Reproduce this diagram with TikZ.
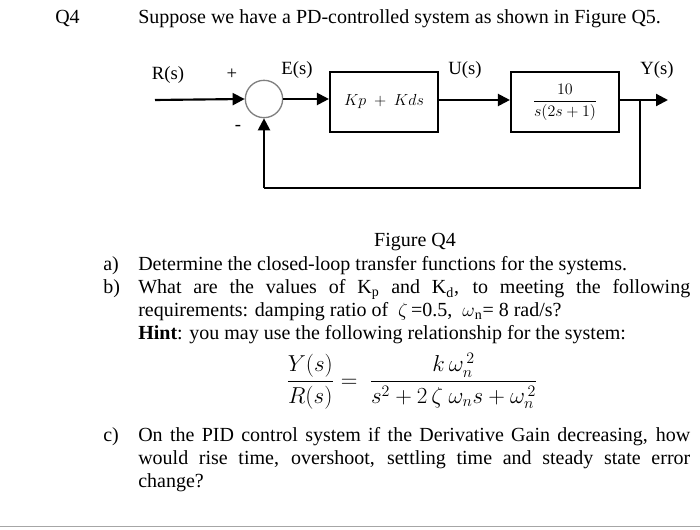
\documentclass[tikz,border=0pt]{standalone}
\usepackage{fontspec}
\setmainfont{Liberation Serif}
\usepackage{amsmath}
\usetikzlibrary{arrows.meta}
\begin{document}
\fontsize{15}{18}\selectfont
\begin{tikzpicture}[x=0.75pt,y=-0.75pt,
  blk/.style={draw,line width=1.6pt,minimum width=81pt,minimum height=45pt,inner sep=0pt},
  sig/.style={line width=1.6pt,-{Triangle[length=9pt,width=9pt]}},
  wire/.style={line width=1.6pt},
  lbl/.style={font=\fontsize{14}{16}\selectfont,inner sep=0pt},
  txt/.style={anchor=base west,inner sep=0pt}]
\useasboundingbox (0,0) rectangle (700,530);
\node[txt] (q4) at (55,24) {Q4};
\node[txt] (intro) at (138,24) {Suppose we have a PD-controlled system as shown in Figure Q5.};
% block diagram
\coordinate (rin) at (155,100);
\node[circle,draw=gray,line width=1pt,minimum size=28pt,inner sep=0pt] (sum) at (264,99) {};
\node[blk,font=\fontsize{12.5}{15}\selectfont] (c) at (384,102) {$Kp\ +\ Kds$};
\node[blk,font=\fontsize{13}{15}\selectfont] (g) at (565,102) {$\dfrac{10}{s(2s+1)}$};
\coordinate (yout) at (668,100);
\coordinate (br) at (640,100);
\coordinate (fb1) at (640,188);
\coordinate (fb2) at (264,188);
\draw[sig] (rin) -- (sum.west);
\draw[sig] (sum.east) -- (c.west |- sum.east);
\draw[sig] (c.east |- 0,100) -- (g.west |- 0,100);
\draw[sig] (g.east |- 0,100) -- (yout);
\draw[wire] (br) -- (fb1) -- (fb2);
\draw[sig] (fb2) -- (sum.south);
\node[lbl] (rl) at (168,75) {R(s)};
\node[lbl] (pl) at (232,74) {+};
\node[lbl] (ml) at (238,128) {-};
\node[lbl] (el) at (297,70) {E(s)};
\node[lbl] (ul) at (465,70) {U(s)};
\node[lbl] (yl) at (657,70) {Y(s)};
% text
\node[anchor=base,inner sep=0pt] (fig) at (415,247) {Figure Q4};
\node[txt] (a) at (103,271) {a)};
\node[txt] (at) at (138,271) {Determine the closed-loop transfer functions for the systems.};
\node[txt] (b) at (103,294) {b)};
\node[txt] (b1) at (138,294) {\makebox[414pt][s]{What are the values of K\textsubscript{p} and K\textsubscript{d}, to meeting the following}};
\node[txt] (b2) at (138,317) {requirements: damping ratio of \ $\zeta$\,=0.5, \ $\omega$\textsubscript{n}= 8 rad/s?};
\node[txt] (b3) at (138,340) {\textbf{Hint}: you may use the following relationship for the system:};
\node[inner sep=0pt,font=\fontsize{17}{20}\selectfont] (eq) at (412,381) {$\displaystyle \frac{Y(s)}{R(s)}=\ \frac{k\,\omega_n^{\,2}}{s^2+2\,\zeta\ \omega_n s+\omega_n^{\,2}}$};
\node[txt] (c0) at (103,442) {c)};
\node[txt] (c1) at (138,442) {\makebox[414pt][s]{On the PID control system if the Derivative Gain decreasing, how}};
\node[txt] (c2) at (138,465) {\makebox[414pt][s]{would rise time, overshoot, settling time and steady state error}};
\node[txt] (c3) at (138,488) {change?};
\draw[gray!70,line width=0.6pt] (0,526) -- (700,526);
\end{tikzpicture}
\end{document}
